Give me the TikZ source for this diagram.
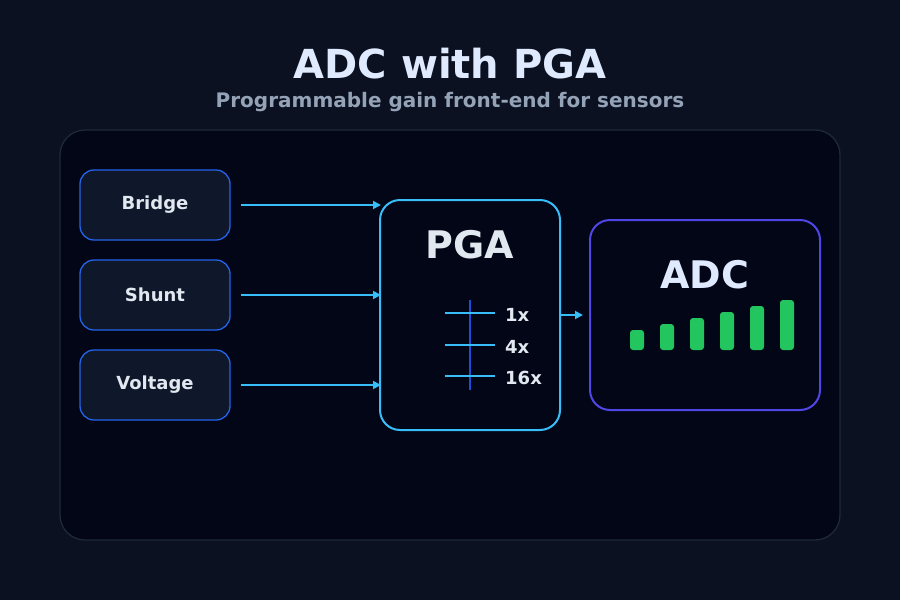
\documentclass[tikz,border=0pt]{standalone}
\usepackage{fontspec}
\setmainfont{DejaVu Sans}
\usetikzlibrary{arrows.meta}
\definecolor{bg}{HTML}{0B1120}
\definecolor{panel}{HTML}{020617}
\definecolor{panelline}{HTML}{1E293B}
\definecolor{boxfill}{HTML}{0F172A}
\definecolor{boxline}{HTML}{2563EB}
\definecolor{sky}{HTML}{38BDF8}
\definecolor{indigo}{HTML}{4F46E5}
\definecolor{deepblue}{HTML}{1D4ED8}
\definecolor{txt}{HTML}{E2E8F0}
\definecolor{title}{HTML}{E0EAFF}
\definecolor{sub}{HTML}{94A3B8}
\definecolor{grn}{HTML}{22C55E}
\begin{document}
\begin{tikzpicture}[x=1pt,y=-1pt,
  inbox/.style={draw=boxline,line width=1.3pt,fill=boxfill,rounded corners=14pt,minimum width=150pt,minimum height=70pt,text=txt,font=\bfseries\fontsize{18}{20}\selectfont},
  feed/.style={draw=sky,line width=1.8pt,-{Triangle[length=8pt,width=8pt]}},
  bar/.style={fill=grn,rounded corners=3pt}]
\fill[bg] (0,0) rectangle (900,600);
\useasboundingbox (0,0) rectangle (900,600);
\node[text=title,font=\bfseries\fontsize{40}{44}\selectfont] (t) at (450,64) {ADC with PGA};
\node[text=sub,font=\bfseries\fontsize{20}{22}\selectfont] (s) at (450,102) {Programmable gain front-end for sensors};
\draw[panelline,fill=panel,line width=1.3pt,rounded corners=25pt] (60,130) rectangle (840,540);
\node[inbox] (b1) at (155,205) {Bridge};
\node[inbox] (b2) at (155,295) {Shunt};
\node[inbox] (b3) at (155,385) {Voltage};
\draw[draw=sky,line width=2pt,rounded corners=20pt,fill=panel] (380,200) rectangle (560,430);
\coordinate (pl1) at (381,205); \coordinate (pl2) at (381,295); \coordinate (pl3) at (381,385);
\draw[feed] (b1.east)++(10,0) -- (pl1);
\draw[feed] (b2.east)++(10,0) -- (pl2);
\draw[feed] (b3.east)++(10,0) -- (pl3);
\node[text=txt,font=\bfseries\fontsize{38}{40}\selectfont] (pga) at (470,245) {PGA};
\draw[deepblue,line width=2.5pt] (470,300) -- (470,390);
\foreach \y/\l in {313/1x,345/4x,376/16x}{
  \draw[sky,line width=2pt] (445,\y) -- (495,\y);
  \node[anchor=west,inner sep=0,text=txt,font=\bfseries\fontsize{18}{20}\selectfont] at (505,\y+2) {\l};
}
\draw[draw=indigo,line width=2pt,rounded corners=20pt] (590,220) rectangle (820,410);
\coordinate (po) at (560,315); \coordinate (ai) at (583,315);
\draw[feed] (po) -- (ai);
\node[text=title,font=\bfseries\fontsize{38}{40}\selectfont] (adc) at (705,275) {ADC};
\foreach \i/\top in {0/330,1/324,2/318,3/312,4/306,5/300}{
  \fill[bar] (630+30*\i,\top) rectangle (644+30*\i,350);
}
\end{tikzpicture}
\end{document}
